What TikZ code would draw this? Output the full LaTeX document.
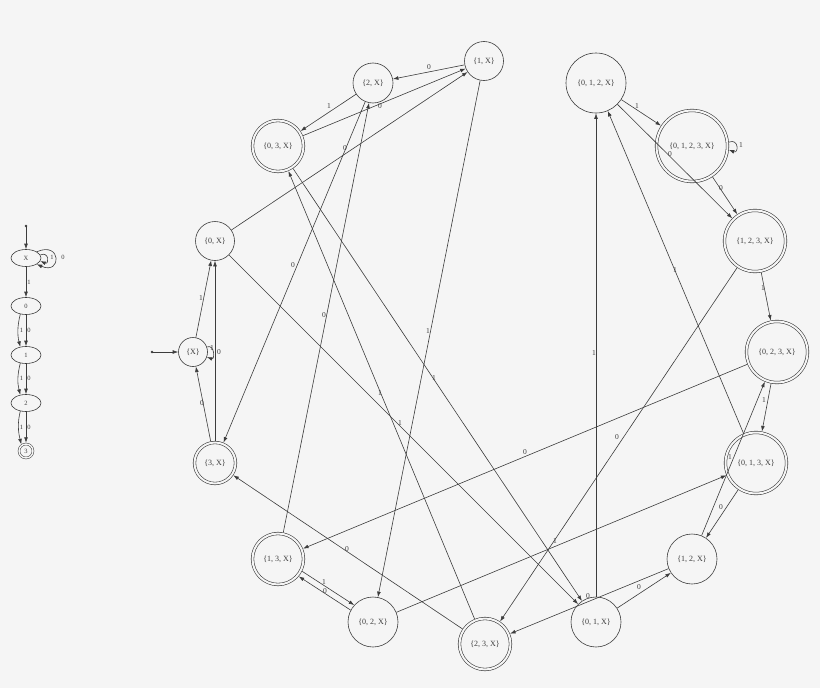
\documentclass[tikz,border=0pt]{standalone}
\usepackage{fontspec}
\setmainfont{Liberation Serif}
\definecolor{paper}{RGB}{245, 245, 245}
\definecolor{ink}{RGB}{60, 60, 60}
\usetikzlibrary{arrows.meta, shapes.geometric}

\begin{document}
\begin{tikzpicture}[x=1pt, y=-1pt,
    every node/.style={text=ink},
    st/.style={circle, draw=ink, line width=0.6pt, inner sep=0pt, font=\fontsize{8}{9}\selectfont},
    acc/.style={st, double=paper, double distance=2pt, outer sep=1.6pt},
    nst/.style={ellipse, draw=ink, line width=0.6pt, minimum width=30pt, minimum height=17pt, inner sep=0pt, font=\fontsize{6.5}{7}\selectfont},
    nacc/.style={circle, draw=ink, line width=0.5pt, double=paper, double distance=1.4pt, outer sep=1.2pt, minimum size=14pt, inner sep=0pt, font=\fontsize{6.5}{7}\selectfont},
    tr/.style={draw=ink, line width=0.6pt, -{Latex[length=5.5pt, width=3.8pt]}},
    lb/.style={font=\fontsize{7.5}{8}\selectfont, inner sep=0pt},
    lbs/.style={font=\fontsize{6.5}{7}\selectfont, inner sep=0pt}]
    \fill[paper] (0,0) rectangle (820,688);

    \coordinate (nstart) at (26,226);
    \fill[ink] (nstart) circle (1.3);
    \node[nst] (nX) at (26,258) {X};
    \node[nst] (n0) at (26,306) {0};
    \node[nst] (n1) at (26,355) {1};
    \node[nst] (n2) at (26,403) {2};
    \node[nacc] (n3) at (26,451) {3};
    \draw[tr] (nstart) -- (nX);
    \draw[tr] (nX.12) .. controls +(9,-4) and +(9,4) .. (nX.-12) node[lbs] at (52,257) {1};
    \draw[tr] (nX.30) .. controls +(25,-11) and +(25,11) .. (nX.-30) node[lbs] at (63,257) {0};
    \draw[tr] (nX) -- (n0) node[lbs] at (29,282) {1};
    \draw[tr] (n0.235) .. controls +(-3,12) and +(-3,-12) .. (n1.125) node[lbs] at (21.5,330) {1};
    \draw[tr] (n0) -- (n1) node[lbs] at (29,330) {0};
    \draw[tr] (n1.235) .. controls +(-3,12) and +(-3,-12) .. (n2.125) node[lbs] at (21.5,378) {1};
    \draw[tr] (n1) -- (n2) node[lbs] at (29,378) {0};
    \draw[tr] (n2.235) .. controls +(-3,12) and +(-3,-12) .. (n3.125) node[lbs] at (21.5,427) {1};
    \draw[tr] (n2) -- (n3) node[lbs] at (29,427) {0};

    \coordinate (start) at (152,352);
    \fill[ink] (start) circle (1.3);
    \node[st, minimum size=29pt] (s) at (193,352) {\{X\}};
    \node[st, minimum size=39pt] (s0) at (215,241) {\{0, X\}};
    \node[st, minimum size=40pt] (s2) at (373,83) {\{2, X\}};
    \node[st, minimum size=39pt] (s1) at (484,61) {\{1, X\}};
    \node[acc, minimum size=51pt] (s03) at (278,146) {\{0, 3, X\}};
    \node[acc, minimum size=41pt] (s3) at (215,463) {\{3, X\}};
    \node[acc, minimum size=51pt] (s13) at (278,559) {\{1, 3, X\}};
    \node[st, minimum size=50pt] (s02) at (373,622) {\{0, 2, X\}};
    \node[acc, minimum size=51pt] (s23) at (485,644) {\{2, 3, X\}};
    \node[st, minimum size=50pt] (s01) at (596,622) {\{0, 1, X\}};
    \node[st, minimum size=50pt] (s12) at (692,559) {\{1, 2, X\}};
    \node[acc, minimum size=61pt] (s013) at (756,463) {\{0, 1, 3, X\}};
    \node[acc, minimum size=61pt] (s023) at (777,352) {\{0, 2, 3, X\}};
    \node[acc, minimum size=61pt] (s123) at (755,241) {\{1, 2, 3, X\}};
    \node[acc, minimum size=71pt] (s0123) at (692,146) {\{0, 1, 2, 3, X\}};
    \node[st, minimum size=60pt] (s012) at (596,83) {\{0, 1, 2, X\}};

    \draw[tr] (start) -- (s);
    \draw[tr] (s) -- (s0) node[lb] at (201,298) {1};
    \draw[tr] (s.20) .. controls +(8,-3) and +(8,3) .. (s.-20) node[lb] at (219,352) {0};
    \draw[tr] (s3) -- (s) node[lb] at (202,403) {0};
    \draw[tr] (s3) -- (s0) node[lb] at (212,348) {1};
    \draw[tr] (s0) -- (s1) node[lb] at (345,148) {0};
    \draw[tr] (s0) -- (s01) node[lb] at (400,423) {1};
    \draw[tr] (s1) -- (s2) node[lb] at (429,67) {0};
    \draw[tr] (s1) -- (s02) node[lb] at (428,331) {1};
    \draw[tr] (s2) -- (s03) node[lb] at (329,106) {1};
    \draw[tr] (s2) -- (s3) node[lb] at (293,265) {0};
    \draw[tr] (s03) -- (s1) node[lb] at (380,106) {0};
    \draw[tr] (s03) -- (s01) node[lb] at (434,378) {1};
    \draw[tr] (s13) -- (s2) node[lb] at (324,315) {0};
    \draw[tr] (s13.-27) -- (s02.138) node[lb] at (324,582) {1};
    \draw[tr] (s02.152) -- (s13.-40) node[lb] at (325,591) {0};
    \draw[tr] (s02) -- (s013) node[lb] at (555,541) {1};
    \draw[tr] (s23) -- (s3) node[lb] at (347,549) {0};
    \draw[tr] (s23) -- (s03) node[lb] at (380,393) {1};
    \draw[tr] (s01) -- (s12) node[lb] at (639,587) {0};
    \draw[tr] (s01) -- (s012) node[lb] at (594,353) {1};
    \draw[tr] (s12) -- (s23) node[lb] at (588,596) {0};
    \draw[tr] (s12) -- (s023) node[lb] at (730,457) {1};
    \draw[tr] (s013) -- (s12) node[lb] at (721,507) {0};
    \draw[tr] (s013) -- (s012) node[lb] at (675,270) {1};
    \draw[tr] (s023) -- (s13) node[lb] at (525,452) {0};
    \draw[tr] (s023) -- (s013) node[lb] at (764,400) {1};
    \draw[tr] (s123) -- (s23) node[lb] at (617,437) {0};
    \draw[tr] (s123) -- (s023) node[lb] at (763,288) {1};
    \draw[tr] (s012) -- (s123) node[lb] at (670,154) {0};
    \draw[tr] (s012) -- (s0123) node[lb] at (637,106) {1};
    \draw[tr] (s0123) -- (s123) node[lb] at (721,188) {0};
    \draw[tr] (s0123.6) .. controls +(10,-4) and +(10,4) .. (s0123.-6) node[lb] at (741,145) {1};
\end{tikzpicture}
\end{document}
